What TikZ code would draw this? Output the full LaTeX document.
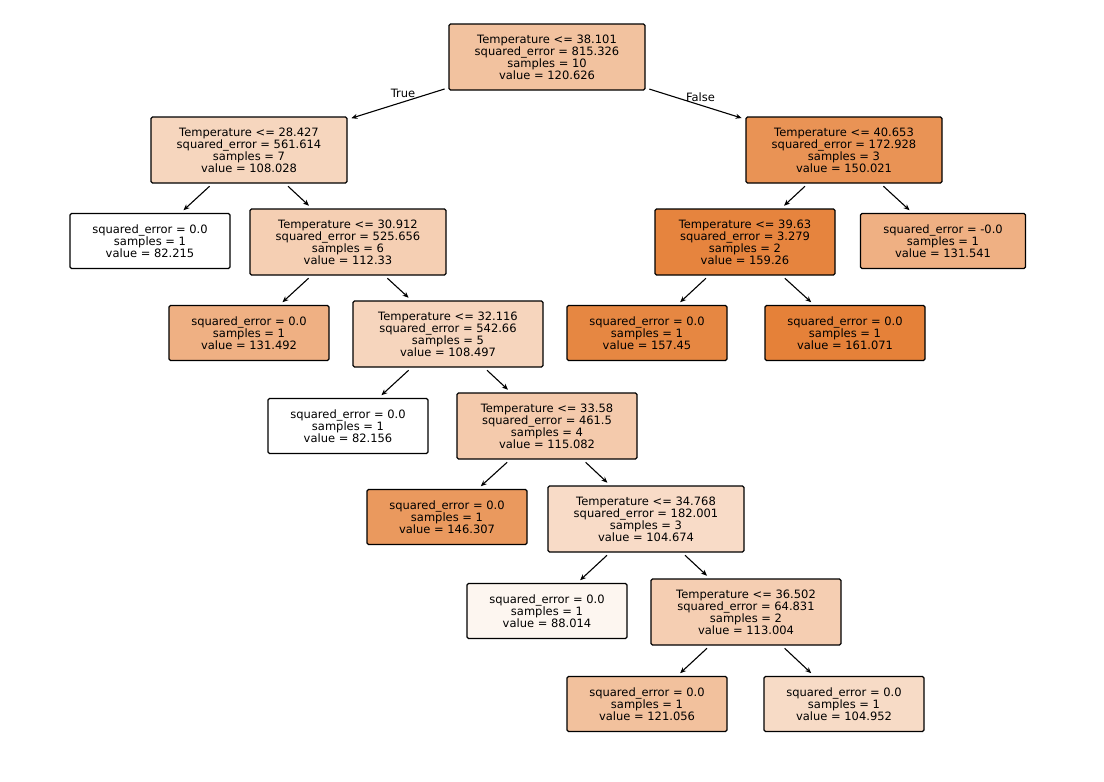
\documentclass[tikz,border=0pt]{standalone}
\usepackage{fontspec}
\setmainfont{DejaVu Sans}
\usetikzlibrary{arrows.meta}
\definecolor{sk}{HTML}{E58139}
\begin{document}
\begin{tikzpicture}[x=1pt,y=-1pt,
  nd/.style={draw,line width=1.1pt,rounded corners=1.5pt,align=center,inner sep=0pt,font=\fontsize{11.5}{12}\selectfont,minimum height=55pt},
  sp/.style={nd,minimum width=196pt,minimum height=66pt},
  lf/.style={nd,minimum width=160pt},
  ar/.style={-{Stealth[length=6pt,width=5pt]},line width=1.1pt,shorten >=4pt,shorten <=4pt}]
\useasboundingbox (0,0) rectangle (1104,782);
\node[sp,fill=sk!48.7!white] (r) at (547,57) {Temperature <= 38.101\\squared\_error = 815.326\\samples = 10\\value = 120.626};
\node[sp,fill=sk!32.8!white] (a) at (249,150) {Temperature <= 28.427\\squared\_error = 561.614\\samples = 7\\value = 108.028};
\node[sp,fill=sk!86!white] (b) at (844,150) {Temperature <= 40.653\\squared\_error = 172.928\\samples = 3\\value = 150.021};
\node[lf,fill=sk!0.1!white] (l1) at (150,241) {squared\_error = 0.0\\samples = 1\\value = 82.215};
\node[sp,fill=sk!38.2!white] (c) at (348,242) {Temperature <= 30.912\\squared\_error = 525.656\\samples = 6\\value = 112.33};
\node[sp,minimum width=180pt,fill=sk!97.7!white] (d) at (745,242) {Temperature <= 39.63\\squared\_error = 3.279\\samples = 2\\value = 159.26};
\node[lf,minimum width=165pt,fill=sk!62.6!white] (l2) at (943,241) {squared\_error = -0.0\\samples = 1\\value = 131.541};
\node[lf,fill=sk!62.5!white] (l3) at (249,333) {squared\_error = 0.0\\samples = 1\\value = 131.492};
\node[sp,minimum width=190pt,fill=sk!33.4!white] (e) at (448,334) {Temperature <= 32.116\\squared\_error = 542.66\\samples = 5\\value = 108.497};
\node[lf,fill=sk!95.4!white] (l4) at (647,333) {squared\_error = 0.0\\samples = 1\\value = 157.45};
\node[lf,fill=sk!100!white] (l5) at (845,333) {squared\_error = 0.0\\samples = 1\\value = 161.071};
\node[lf,fill=white] (l6) at (348,426) {squared\_error = 0.0\\samples = 1\\value = 82.156};
\node[sp,minimum width=180pt,fill=sk!41.7!white] (f) at (547,426) {Temperature <= 33.58\\squared\_error = 461.5\\samples = 4\\value = 115.082};
\node[lf,fill=sk!81.3!white] (l7) at (447,517) {squared\_error = 0.0\\samples = 1\\value = 146.307};
\node[sp,fill=sk!28.5!white] (g) at (646,519) {Temperature <= 34.768\\squared\_error = 182.001\\samples = 3\\value = 104.674};
\node[lf,fill=sk!7.4!white] (l8) at (547,611) {squared\_error = 0.0\\samples = 1\\value = 88.014};
\node[sp,minimum width=190pt,fill=sk!39.1!white] (h) at (746,612) {Temperature <= 36.502\\squared\_error = 64.831\\samples = 2\\value = 113.004};
\node[lf,fill=sk!49.3!white] (l9) at (647,704) {squared\_error = 0.0\\samples = 1\\value = 121.056};
\node[lf,fill=sk!28.9!white] (l10) at (844,704) {squared\_error = 0.0\\samples = 1\\value = 104.952};
\draw[ar] (r) -- node[pos=0.45,above,font=\fontsize{11.5}{12}\selectfont] {True} (a);
\draw[ar] (r) -- node[pos=0.55,above,font=\fontsize{11.5}{12}\selectfont] {False} (b);
\foreach \p/\q in {a/l1,a/c,b/d,b/l2,c/l3,c/e,d/l4,d/l5,e/l6,e/f,f/l7,f/g,g/l8,g/h,h/l9,h/l10}
  \draw[ar] (\p) -- (\q);
\end{tikzpicture}
\end{document}
